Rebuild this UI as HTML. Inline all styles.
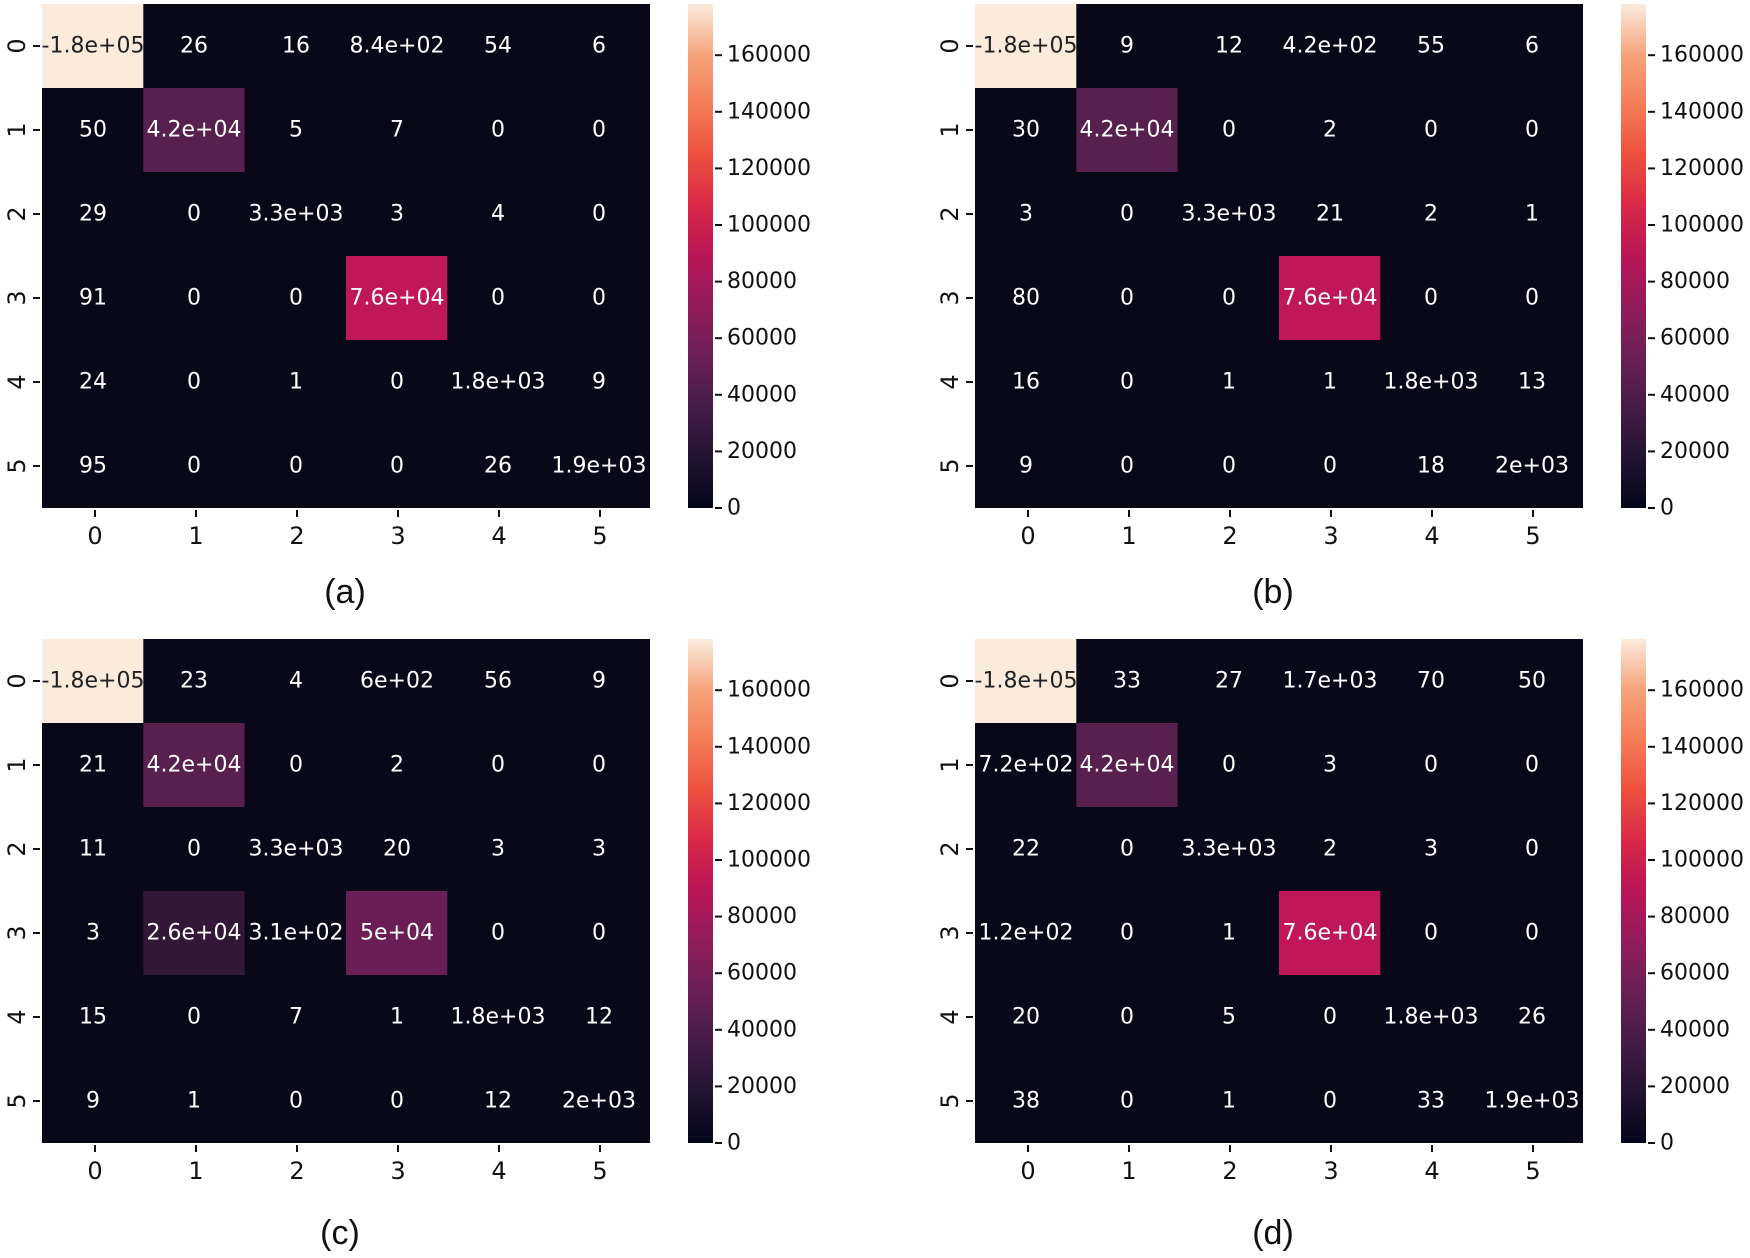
<!DOCTYPE html>
<html><head><meta charset="utf-8"><style>
html,body{margin:0;padding:0;background:#fff}
svg{display:block}
.c{font-family:"DejaVu Sans",sans-serif;font-size:22px;fill:#fff;text-anchor:middle;dominant-baseline:central}
.t{font-family:"DejaVu Sans",sans-serif;font-size:24px;fill:#111;dominant-baseline:central}
.cb{font-family:"DejaVu Sans",sans-serif;font-size:22px;fill:#111;dominant-baseline:central}
.cap{font-family:"Liberation Sans",sans-serif;font-size:34px;fill:#111;text-anchor:middle;dominant-baseline:central}
</style></head><body>
<svg width="1750" height="1258" viewBox="0 0 1750 1258" xmlns="http://www.w3.org/2000/svg">
<defs>
<linearGradient id="rk" x1="0" y1="1" x2="0" y2="0">
<stop offset="0" stop-color="#03051a"/><stop offset="0.1" stop-color="#221331"/><stop offset="0.2" stop-color="#451c47"/><stop offset="0.3" stop-color="#6a1f56"/><stop offset="0.4" stop-color="#921c5b"/><stop offset="0.5" stop-color="#b91657"/><stop offset="0.6" stop-color="#d92847"/><stop offset="0.7" stop-color="#ed503e"/><stop offset="0.8" stop-color="#f47d57"/><stop offset="0.9" stop-color="#f6a47c"/><stop offset="1" stop-color="#faebdd"/>
</linearGradient>
<g id="frame">
<rect x="42" y="4" width="608" height="504" fill="#080819"/>
<rect x="42" y="4" width="101.3" height="84" fill="#faebdd"/>
<rect x="688" y="4" width="25" height="504" fill="url(#rk)"/>
<g stroke="#111" stroke-width="2">
<line x1="715" y1="508" x2="722" y2="508"/><line x1="715" y1="451.4" x2="722" y2="451.4"/><line x1="715" y1="394.8" x2="722" y2="394.8"/><line x1="715" y1="338.2" x2="722" y2="338.2"/><line x1="715" y1="281.6" x2="722" y2="281.6"/><line x1="715" y1="225" x2="722" y2="225"/><line x1="715" y1="168.4" x2="722" y2="168.4"/><line x1="715" y1="111.8" x2="722" y2="111.8"/><line x1="715" y1="55.2" x2="722" y2="55.2"/>
<line x1="95" y1="510" x2="95" y2="517"/><line x1="196" y1="510" x2="196" y2="517"/><line x1="297" y1="510" x2="297" y2="517"/><line x1="398" y1="510" x2="398" y2="517"/><line x1="499" y1="510" x2="499" y2="517"/><line x1="600" y1="510" x2="600" y2="517"/>
<line x1="33" y1="46" x2="40" y2="46"/><line x1="33" y1="130" x2="40" y2="130"/><line x1="33" y1="214" x2="40" y2="214"/><line x1="33" y1="298" x2="40" y2="298"/><line x1="33" y1="382" x2="40" y2="382"/><line x1="33" y1="466" x2="40" y2="466"/>
</g>
<text class="cb" x="727" y="508">0</text><text class="cb" x="727" y="451.4">20000</text><text class="cb" x="727" y="394.8">40000</text><text class="cb" x="727" y="338.2">60000</text><text class="cb" x="727" y="281.6">80000</text><text class="cb" x="727" y="225">100000</text><text class="cb" x="727" y="168.4">120000</text><text class="cb" x="727" y="111.8">140000</text><text class="cb" x="727" y="55.2">160000</text>
<text class="t" x="95" y="536" text-anchor="middle">0</text><text class="t" x="196" y="536" text-anchor="middle">1</text><text class="t" x="297" y="536" text-anchor="middle">2</text><text class="t" x="398" y="536" text-anchor="middle">3</text><text class="t" x="499" y="536" text-anchor="middle">4</text><text class="t" x="600" y="536" text-anchor="middle">5</text>
<text class="t" text-anchor="middle" transform="translate(17,46) rotate(-90)">0</text>
<text class="t" text-anchor="middle" transform="translate(17,130) rotate(-90)">1</text>
<text class="t" text-anchor="middle" transform="translate(17,214) rotate(-90)">2</text>
<text class="t" text-anchor="middle" transform="translate(17,298) rotate(-90)">3</text>
<text class="t" text-anchor="middle" transform="translate(17,382) rotate(-90)">4</text>
<text class="t" text-anchor="middle" transform="translate(17,466) rotate(-90)">5</text>
</g>
</defs>

<!-- (a) -->
<g>
<use href="#frame"/>
<rect x="143.3" y="88" width="101.3" height="84" fill="#58204f"/>
<rect x="346" y="256" width="101.3" height="84" fill="#bf175a"/>
<text class="c" x="93" y="46" style="fill:#222">-1.8e+05</text><text class="c" x="194" y="46">26</text><text class="c" x="296" y="46">16</text><text class="c" x="397" y="46">8.4e+02</text><text class="c" x="498" y="46">54</text><text class="c" x="599" y="46">6</text>
<text class="c" x="93" y="130">50</text><text class="c" x="194" y="130">4.2e+04</text><text class="c" x="296" y="130">5</text><text class="c" x="397" y="130">7</text><text class="c" x="498" y="130">0</text><text class="c" x="599" y="130">0</text>
<text class="c" x="93" y="214">29</text><text class="c" x="194" y="214">0</text><text class="c" x="296" y="214">3.3e+03</text><text class="c" x="397" y="214">3</text><text class="c" x="498" y="214">4</text><text class="c" x="599" y="214">0</text>
<text class="c" x="93" y="298">91</text><text class="c" x="194" y="298">0</text><text class="c" x="296" y="298">0</text><text class="c" x="397" y="298">7.6e+04</text><text class="c" x="498" y="298">0</text><text class="c" x="599" y="298">0</text>
<text class="c" x="93" y="382">24</text><text class="c" x="194" y="382">0</text><text class="c" x="296" y="382">1</text><text class="c" x="397" y="382">0</text><text class="c" x="498" y="382">1.8e+03</text><text class="c" x="599" y="382">9</text>
<text class="c" x="93" y="466">95</text><text class="c" x="194" y="466">0</text><text class="c" x="296" y="466">0</text><text class="c" x="397" y="466">0</text><text class="c" x="498" y="466">26</text><text class="c" x="599" y="466">1.9e+03</text>
<text class="cap" x="345" y="592">(a)</text>
</g>

<!-- (b) -->
<g transform="translate(933,0)">
<use href="#frame"/>
<rect x="143.3" y="88" width="101.3" height="84" fill="#58204f"/>
<rect x="346" y="256" width="101.3" height="84" fill="#bf175a"/>
<text class="c" x="93" y="46" style="fill:#222">-1.8e+05</text><text class="c" x="194" y="46">9</text><text class="c" x="296" y="46">12</text><text class="c" x="397" y="46">4.2e+02</text><text class="c" x="498" y="46">55</text><text class="c" x="599" y="46">6</text>
<text class="c" x="93" y="130">30</text><text class="c" x="194" y="130">4.2e+04</text><text class="c" x="296" y="130">0</text><text class="c" x="397" y="130">2</text><text class="c" x="498" y="130">0</text><text class="c" x="599" y="130">0</text>
<text class="c" x="93" y="214">3</text><text class="c" x="194" y="214">0</text><text class="c" x="296" y="214">3.3e+03</text><text class="c" x="397" y="214">21</text><text class="c" x="498" y="214">2</text><text class="c" x="599" y="214">1</text>
<text class="c" x="93" y="298">80</text><text class="c" x="194" y="298">0</text><text class="c" x="296" y="298">0</text><text class="c" x="397" y="298">7.6e+04</text><text class="c" x="498" y="298">0</text><text class="c" x="599" y="298">0</text>
<text class="c" x="93" y="382">16</text><text class="c" x="194" y="382">0</text><text class="c" x="296" y="382">1</text><text class="c" x="397" y="382">1</text><text class="c" x="498" y="382">1.8e+03</text><text class="c" x="599" y="382">13</text>
<text class="c" x="93" y="466">9</text><text class="c" x="194" y="466">0</text><text class="c" x="296" y="466">0</text><text class="c" x="397" y="466">0</text><text class="c" x="498" y="466">18</text><text class="c" x="599" y="466">2e+03</text>
<text class="cap" x="340" y="592">(b)</text>
</g>

<!-- (c) -->
<g transform="translate(0,635)">
<use href="#frame"/>
<rect x="143.3" y="88" width="101.3" height="84" fill="#58204f"/>
<rect x="143.3" y="256" width="101.3" height="84" fill="#331736"/>
<rect x="346" y="256" width="101.3" height="84" fill="#6a1e55"/>
<text class="c" x="93" y="46" style="fill:#222">-1.8e+05</text><text class="c" x="194" y="46">23</text><text class="c" x="296" y="46">4</text><text class="c" x="397" y="46">6e+02</text><text class="c" x="498" y="46">56</text><text class="c" x="599" y="46">9</text>
<text class="c" x="93" y="130">21</text><text class="c" x="194" y="130">4.2e+04</text><text class="c" x="296" y="130">0</text><text class="c" x="397" y="130">2</text><text class="c" x="498" y="130">0</text><text class="c" x="599" y="130">0</text>
<text class="c" x="93" y="214">11</text><text class="c" x="194" y="214">0</text><text class="c" x="296" y="214">3.3e+03</text><text class="c" x="397" y="214">20</text><text class="c" x="498" y="214">3</text><text class="c" x="599" y="214">3</text>
<text class="c" x="93" y="298">3</text><text class="c" x="194" y="298">2.6e+04</text><text class="c" x="296" y="298">3.1e+02</text><text class="c" x="397" y="298">5e+04</text><text class="c" x="498" y="298">0</text><text class="c" x="599" y="298">0</text>
<text class="c" x="93" y="382">15</text><text class="c" x="194" y="382">0</text><text class="c" x="296" y="382">7</text><text class="c" x="397" y="382">1</text><text class="c" x="498" y="382">1.8e+03</text><text class="c" x="599" y="382">12</text>
<text class="c" x="93" y="466">9</text><text class="c" x="194" y="466">1</text><text class="c" x="296" y="466">0</text><text class="c" x="397" y="466">0</text><text class="c" x="498" y="466">12</text><text class="c" x="599" y="466">2e+03</text>
<text class="cap" x="340" y="598">(c)</text>
</g>

<!-- (d) -->
<g transform="translate(933,635)">
<use href="#frame"/>
<rect x="143.3" y="88" width="101.3" height="84" fill="#58204f"/>
<rect x="346" y="256" width="101.3" height="84" fill="#bf175a"/>
<text class="c" x="93" y="46" style="fill:#222">-1.8e+05</text><text class="c" x="194" y="46">33</text><text class="c" x="296" y="46">27</text><text class="c" x="397" y="46">1.7e+03</text><text class="c" x="498" y="46">70</text><text class="c" x="599" y="46">50</text>
<text class="c" x="93" y="130">7.2e+02</text><text class="c" x="194" y="130">4.2e+04</text><text class="c" x="296" y="130">0</text><text class="c" x="397" y="130">3</text><text class="c" x="498" y="130">0</text><text class="c" x="599" y="130">0</text>
<text class="c" x="93" y="214">22</text><text class="c" x="194" y="214">0</text><text class="c" x="296" y="214">3.3e+03</text><text class="c" x="397" y="214">2</text><text class="c" x="498" y="214">3</text><text class="c" x="599" y="214">0</text>
<text class="c" x="93" y="298">1.2e+02</text><text class="c" x="194" y="298">0</text><text class="c" x="296" y="298">1</text><text class="c" x="397" y="298">7.6e+04</text><text class="c" x="498" y="298">0</text><text class="c" x="599" y="298">0</text>
<text class="c" x="93" y="382">20</text><text class="c" x="194" y="382">0</text><text class="c" x="296" y="382">5</text><text class="c" x="397" y="382">0</text><text class="c" x="498" y="382">1.8e+03</text><text class="c" x="599" y="382">26</text>
<text class="c" x="93" y="466">38</text><text class="c" x="194" y="466">0</text><text class="c" x="296" y="466">1</text><text class="c" x="397" y="466">0</text><text class="c" x="498" y="466">33</text><text class="c" x="599" y="466">1.9e+03</text>
<text class="cap" x="340" y="598">(d)</text>
</g>
</svg>
</body></html>
